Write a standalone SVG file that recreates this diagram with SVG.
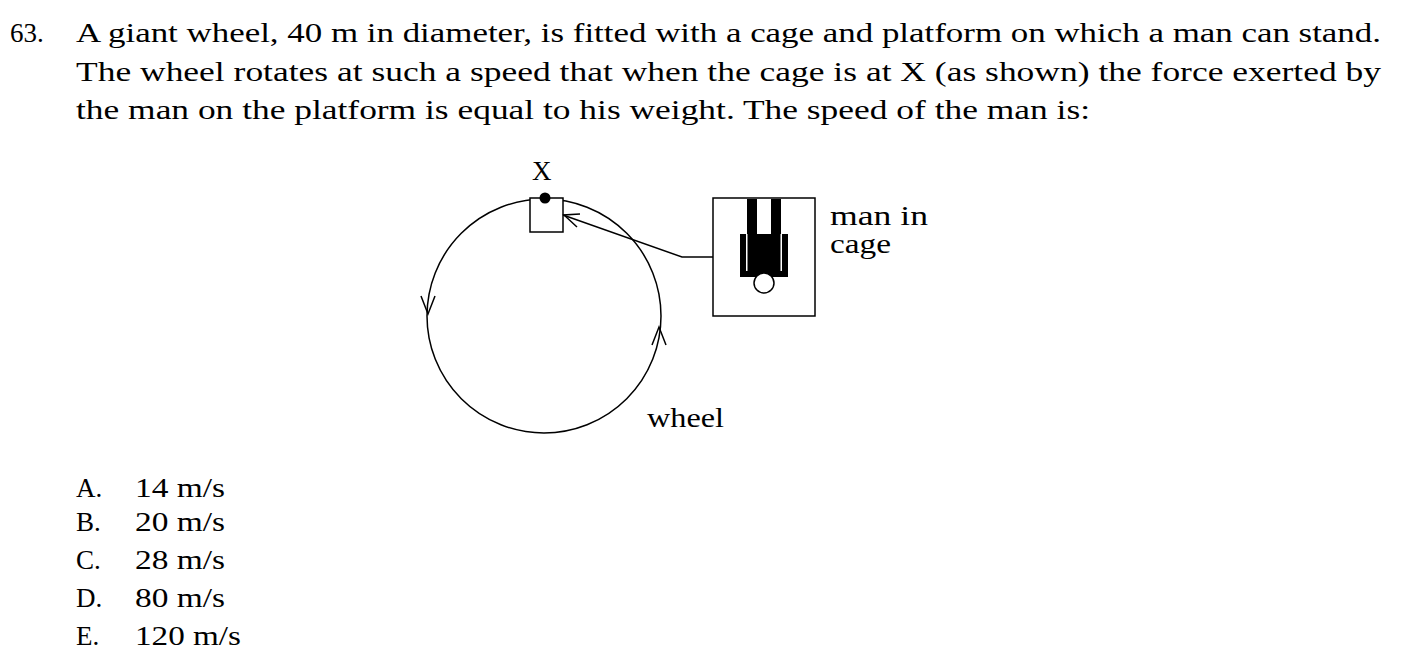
<svg xmlns="http://www.w3.org/2000/svg" width="1402" height="671" viewBox="0 0 1402 671">
<style>
text{font-family:"Liberation Serif","DejaVu Serif",serif;font-size:27px;fill:#000}
.l{fill:none;stroke:#000;stroke-width:1.5}
</style>
<rect width="1402" height="671" fill="#fff"/>
<text x="10" y="42">63.</text>
<text x="76" y="42" textLength="1305" lengthAdjust="spacingAndGlyphs">A giant wheel, 40 m in diameter, is fitted with a cage and platform on which a man can stand.</text>
<text x="76" y="81" textLength="1305" lengthAdjust="spacingAndGlyphs">The wheel rotates at such a speed that when the cage is at X (as shown) the force exerted by</text>
<text x="76" y="119" textLength="1014" lengthAdjust="spacingAndGlyphs">the man on the platform is equal to his weight. The speed of the man is:</text>
<g id="wheel">
<circle class="l" cx="544" cy="316" r="117"/>
<path class="l" d="M421 296 L428 314 L435 296 M652 345 L659 327 L666 345"/>
<text x="647" y="427" textLength="77" lengthAdjust="spacingAndGlyphs">wheel</text>
</g>
<g id="cage-x">
<rect x="530" y="198" width="33" height="34" fill="#fff" stroke="#000" stroke-width="1.5"/>
<circle cx="545" cy="198" r="5.5" fill="#000"/>
<text x="532" y="180">X</text>
</g>
<g id="connectors">
<path class="l" d="M563 215 L682 257 L714 257"/>
<path class="l" d="M580 214 L564 215 L577 227"/>
</g>
<g id="man-in-cage">
<rect x="713" y="198" width="102" height="118" fill="#fff" stroke="#000" stroke-width="1.5"/>
<rect x="747" y="199" width="10" height="36" fill="#000"/>
<rect x="771" y="199" width="10" height="36" fill="#000"/>
<rect x="740" y="234" width="48" height="43" fill="#000"/>
<rect x="746" y="234" width="1.5" height="37" fill="#fff"/>
<rect x="780.5" y="234" width="1.5" height="37" fill="#fff"/>
<circle cx="764" cy="283" r="10" fill="#fff" stroke="#000" stroke-width="1.5"/>
<text x="830" y="225" textLength="98" lengthAdjust="spacingAndGlyphs">man in</text>
<text x="830" y="253" textLength="61" lengthAdjust="spacingAndGlyphs">cage</text>
</g>
<text x="76" y="497">A.</text><text x="135" y="497" textLength="90" lengthAdjust="spacingAndGlyphs">14 m/s</text>
<text x="76" y="531">B.</text><text x="135" y="531" textLength="90" lengthAdjust="spacingAndGlyphs">20 m/s</text>
<text x="76" y="569">C.</text><text x="135" y="569" textLength="90" lengthAdjust="spacingAndGlyphs">28 m/s</text>
<text x="76" y="607">D.</text><text x="135" y="607" textLength="90" lengthAdjust="spacingAndGlyphs">80 m/s</text>
<text x="76" y="645">E.</text><text x="135" y="645" textLength="106" lengthAdjust="spacingAndGlyphs">120 m/s</text>
</svg>
